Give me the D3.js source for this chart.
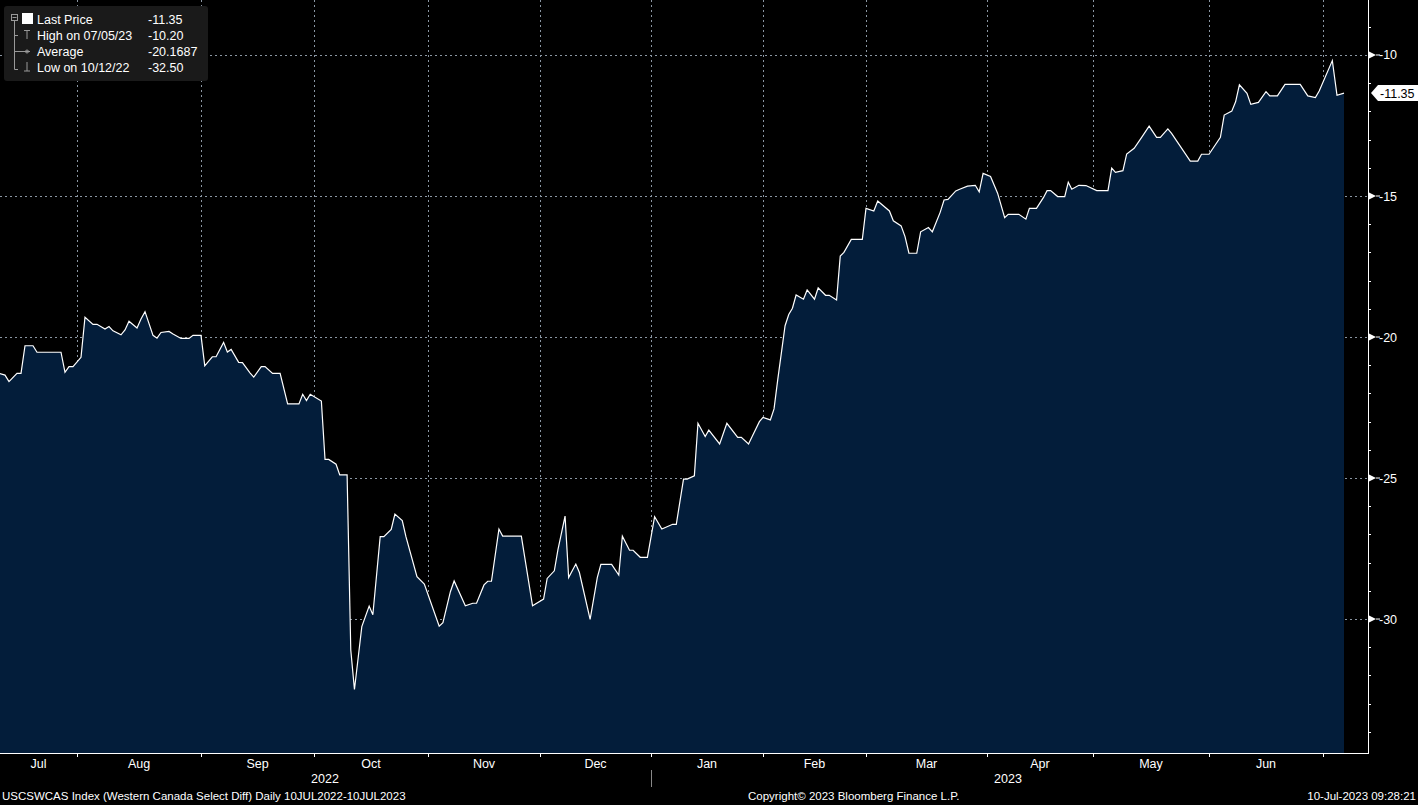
<!DOCTYPE html>
<html>
<head>
<meta charset="utf-8">
<script src="https://cdn.jsdelivr.net/npm/d3@7"></script>
<style>
  body { margin: 0; background: #000; }
  svg { display: block; font-family: "Liberation Sans", Arial, sans-serif; }
</style>
</head>
<body>
<svg id="chart" width="1418" height="805"></svg>
<script>
// dates of the points
const dates = [
  "2022-07-12","2022-07-14","2022-07-15","2022-07-17","2022-07-18","2022-07-19","2022-07-21","2022-07-22","2022-07-28","2022-07-29","2022-07-30","2022-07-31",
  "2022-08-02","2022-08-03","2022-08-05","2022-08-06","2022-08-08","2022-08-09","2022-08-10","2022-08-12","2022-08-13","2022-08-14","2022-08-16","2022-08-17","2022-08-18","2022-08-20","2022-08-21","2022-08-22","2022-08-24","2022-08-25","2022-08-27","2022-08-29","2022-08-30",
  "2022-09-01","2022-09-02","2022-09-04","2022-09-05","2022-09-07","2022-09-08","2022-09-09","2022-09-11","2022-09-12","2022-09-14","2022-09-15","2022-09-17","2022-09-18","2022-09-20","2022-09-22","2022-09-24","2022-09-27","2022-09-28","2022-09-29","2022-09-30",
  "2022-10-03","2022-10-04","2022-10-05","2022-10-07","2022-10-08","2022-10-10","2022-10-11","2022-10-12","2022-10-14","2022-10-16","2022-10-17","2022-10-19","2022-10-20","2022-10-22","2022-10-23","2022-10-25","2022-10-26","2022-10-29","2022-10-31",
  "2022-11-04","2022-11-05","2022-11-07","2022-11-08","2022-11-11","2022-11-13","2022-11-14","2022-11-16","2022-11-17","2022-11-18","2022-11-20","2022-11-21","2022-11-26","2022-11-29",
  "2022-12-02","2022-12-03","2022-12-05","2022-12-06","2022-12-08","2022-12-09","2022-12-11","2022-12-12","2022-12-15","2022-12-17","2022-12-18","2022-12-21","2022-12-23","2022-12-24","2022-12-26","2022-12-27","2022-12-29","2022-12-31",
  "2023-01-02","2023-01-04","2023-01-07","2023-01-08","2023-01-10","2023-01-11","2023-01-13","2023-01-14","2023-01-16","2023-01-17","2023-01-20","2023-01-22","2023-01-25","2023-01-26","2023-01-28","2023-01-29","2023-01-31",
  "2023-02-01","2023-02-03","2023-02-04","2023-02-05","2023-02-07","2023-02-08","2023-02-09","2023-02-10","2023-02-12","2023-02-13","2023-02-15","2023-02-16","2023-02-18","2023-02-19","2023-02-21","2023-02-22","2023-02-23","2023-02-25","2023-02-28",
  "2023-03-01","2023-03-03","2023-03-04","2023-03-07","2023-03-08","2023-03-10","2023-03-11","2023-03-12","2023-03-14","2023-03-15","2023-03-17","2023-03-18","2023-03-20","2023-03-21","2023-03-22","2023-03-24","2023-03-25","2023-03-27","2023-03-29","2023-03-30","2023-03-31",
  "2023-04-02","2023-04-04","2023-04-06","2023-04-07","2023-04-10","2023-04-12","2023-04-13","2023-04-15","2023-04-17","2023-04-18","2023-04-19","2023-04-21","2023-04-23","2023-04-24","2023-04-25","2023-04-27","2023-04-29",
  "2023-05-02","2023-05-05","2023-05-06","2023-05-07","2023-05-09","2023-05-10","2023-05-12","2023-05-14","2023-05-16","2023-05-18","2023-05-19","2023-05-21","2023-05-22","2023-05-27","2023-05-29","2023-05-30",
  "2023-06-01","2023-06-04","2023-06-05","2023-06-07","2023-06-08","2023-06-09","2023-06-11","2023-06-12","2023-06-14","2023-06-16","2023-06-17","2023-06-19","2023-06-21","2023-06-25","2023-06-27","2023-06-29","2023-06-30",
  "2023-07-05","2023-07-07","2023-07-10"
];
// spread, USD
const values = [
  -21.27,-21.35,-21.58,-21.29,-21.29,-20.31,-20.31,-20.54,-20.54,-21.25,-21.05,-21.05,
  -20.72,-19.30,-19.55,-19.55,-19.72,-19.63,-19.78,-19.92,-19.75,-19.44,-19.68,-19.36,-19.10,-19.94,-20.04,-19.84,-19.80,-19.89,-20.05,-20.05,-19.94,
  -19.94,-21.02,-20.70,-20.70,-20.19,-20.53,-20.44,-20.90,-20.91,-21.27,-21.42,-21.05,-21.05,-21.29,-21.29,-22.37,-22.37,-22.03,-22.25,-22.03,
  -22.27,-24.34,-24.34,-24.51,-24.89,-24.89,-31.10,-32.50,-30.27,-29.54,-29.85,-27.08,-27.08,-26.82,-26.28,-26.51,-27.08,-28.50,-28.76,
  -30.25,-30.13,-29.03,-28.65,-29.53,-29.44,-29.44,-28.79,-28.66,-28.66,-26.81,-27.06,-27.06,-29.53,
  -29.29,-28.56,-28.29,-27.55,-26.35,-28.53,-28.05,-28.35,-30.01,-28.53,-28.06,-28.06,-28.44,-27.06,-27.56,-27.56,-27.81,-27.81,
  -26.37,-26.81,-26.64,-26.64,-25.04,-25.04,-24.92,-23.06,-23.53,-23.30,-23.79,-23.06,-23.56,-23.56,-23.79,-23.53,-23.00,
  -22.85,-22.94,-22.55,-21.52,-19.60,-19.20,-18.98,-18.51,-18.66,-18.33,-18.66,-18.26,-18.52,-18.52,-18.69,-17.13,-17.00,-16.54,-16.54,
  -15.44,-15.53,-15.18,-15.53,-15.88,-16.06,-16.44,-17.03,-17.03,-16.27,-16.12,-16.27,-15.58,-15.14,-15.12,-14.82,-14.76,-14.65,-14.62,-14.85,-14.20,
  -14.31,-14.90,-15.77,-15.65,-15.65,-15.82,-15.44,-15.44,-15.05,-14.81,-14.81,-15.02,-15.02,-14.51,-14.76,-14.62,-14.63,
  -14.81,-14.81,-14.01,-14.16,-14.10,-13.51,-13.31,-12.92,-12.52,-12.92,-12.92,-12.62,-12.78,-13.76,-13.76,-13.52,
  -13.52,-12.92,-12.13,-11.99,-11.66,-11.06,-11.36,-11.75,-11.68,-11.30,-11.45,-11.45,-11.04,-11.04,-11.45,-11.51,-11.28,
  -10.20,-11.43,-11.35
];
const yTicks = [-10, -15, -20, -25, -30];
const monthLabels = ["Jul","Aug","Sep","Oct","Nov","Dec","Jan","Feb","Mar","Apr","May","Jun"];
const legendRows = [
  ["Last Price", "-11.35"],
  ["High on 07/05/23", "-10.20"],
  ["Average", "-20.1687"],
  ["Low on 10/12/22", "-32.50"]
];
const lastPrice = -11.35;

// Bloomberg spaces the axis by trading days, so month starts are stops of a piecewise time scale
const monthStarts = ["2022-07-01","2022-08-01","2022-09-01","2022-10-01","2022-11-01","2022-12-01",
  "2023-01-01","2023-02-01","2023-03-01","2023-04-01","2023-05-01","2023-06-01","2023-07-01","2023-07-10","2023-07-16"];
const monthPx = [-47, 77, 201, 314, 428, 540, 651, 763, 866, 987, 1093, 1209, 1323, 1344, 1368];

const parse = d3.timeParse("%Y-%m-%d");
const data = dates.map((d, i) => ({ date: parse(d), value: values[i] }));

const svg = d3.select("#chart");
const plotRight = 1368, plotBottom = 753;

const x = d3.scaleTime().domain(monthStarts.map(parse)).range(monthPx);
const y = d3.scaleLinear().domain([-34.75, -8.05]).range([plotBottom, 0]);

svg.append("rect").attr("width", 1418).attr("height", 805).attr("fill", "#000");

svg.append("clipPath").attr("id", "clip")
  .append("rect").attr("width", plotRight).attr("height", plotBottom);

// grid
const grid = svg.append("g").attr("stroke", "#8a96a3").attr("stroke-dasharray", "2,3").attr("stroke-width", 1);
grid.selectAll(".h").data(yTicks).join("line")
  .attr("x1", 0).attr("x2", plotRight)
  .attr("y1", d => Math.round(y(d)) + 0.5).attr("y2", d => Math.round(y(d)) + 0.5);
grid.selectAll(".v").data(monthStarts.slice(1, 13)).join("line")
  .attr("y1", 0).attr("y2", plotBottom)
  .attr("x1", d => Math.round(x(parse(d))) + 0.5).attr("x2", d => Math.round(x(parse(d))) + 0.5);

// area + line
const g = svg.append("g").attr("clip-path", "url(#clip)");
g.append("path").datum(data)
  .attr("fill", "#031d3a")
  .attr("d", d3.area().x(d => x(d.date)).y0(plotBottom).y1(d => y(d.value)));
g.append("path").datum(data)
  .attr("fill", "none").attr("stroke", "#fff").attr("stroke-width", 1.2)
  .attr("d", d3.line().x(d => x(d.date)).y(d => y(d.value)));

// right axis: white line, small minor ticks, triangle markers at labelled values
const ax = svg.append("g").attr("transform", `translate(${plotRight},0)`);
ax.append("line").attr("x1", 0.5).attr("x2", 0.5).attr("y1", 0).attr("y2", plotBottom).attr("stroke", "#fff");
ax.selectAll(".minor").data(d3.range(-34, -8, 1).filter(v => v % 5 !== 0)).join("line")
  .attr("x1", 0).attr("x2", 3).attr("y1", d => Math.round(y(d)) + 0.5).attr("y2", d => Math.round(y(d)) + 0.5).attr("stroke", "#fff");
ax.selectAll(".tri").data(yTicks).join("path")
  .attr("d", d => `M1,${y(d) - 3.5} L8,${y(d)} L1,${y(d) + 3.5} Z`).attr("fill", "#fff");
ax.selectAll(".dash").data(yTicks).join("line")
  .attr("x1", 8).attr("x2", 12).attr("y1", d => y(d)).attr("y2", d => y(d)).attr("stroke", "#fff");
ax.selectAll("text").data(yTicks).join("text")
  .attr("x", 11).attr("y", d => y(d) + 4.5).attr("fill", "#fff").attr("font-size", 12.5).text(d => d);

// last price tag
const ly = y(lastPrice);
const tag = svg.append("g").attr("transform", `translate(${plotRight + 3},${ly})`);
tag.append("path").attr("d", "M0,0 L7,-8 L50,-8 L50,8 L7,8 Z").attr("fill", "#fff");
tag.append("text").attr("x", 9).attr("y", 4.5).attr("font-size", 12.5).attr("fill", "#000").text(lastPrice.toFixed(2));

// bottom axis
svg.append("line").attr("x1", 0).attr("x2", plotRight + 1).attr("y1", plotBottom + 0.5).attr("y2", plotBottom + 0.5).attr("stroke", "#fff");
svg.append("g").selectAll("line").data(monthStarts.slice(1, 13)).join("line")
  .attr("x1", d => Math.round(x(parse(d))) + 0.5).attr("x2", d => Math.round(x(parse(d))) + 0.5)
  .attr("y1", plotBottom).attr("y2", plotBottom + 4).attr("stroke", "#fff");
svg.append("g").selectAll("text").data(monthLabels).join("text")
  .attr("x", (d, i) => (Math.max(0, monthPx[i]) + monthPx[i + 1]) / 2)
  .attr("y", 768).attr("text-anchor", "middle").attr("fill", "#fff").attr("font-size", 12.5)
  .text(d => d);
svg.append("text").attr("x", 325).attr("y", 783).attr("text-anchor", "middle").attr("fill", "#fff").attr("font-size", 12.5).text("2022");
svg.append("text").attr("x", 1008).attr("y", 783).attr("text-anchor", "middle").attr("fill", "#fff").attr("font-size", 12.5).text("2023");
svg.append("line").attr("x1", 651.5).attr("x2", 651.5).attr("y1", 770).attr("y2", 787).attr("stroke", "#888");

// footer
const foot = svg.append("g").attr("fill", "#fff").attr("font-size", 11.5);
foot.append("text").attr("x", 2).attr("y", 800).text("USCSWCAS Index (Western Canada Select Diff)  Daily 10JUL2022-10JUL2023");
foot.append("text").attr("x", 748).attr("y", 800).text("Copyright\u00a9 2023 Bloomberg Finance L.P.");
foot.append("text").attr("x", 1416).attr("y", 800).attr("text-anchor", "end").text("10-Jul-2023 09:28:21");

// legend
const leg = svg.append("g").attr("transform", "translate(4,6)");
leg.append("rect").attr("width", 204).attr("height", 75).attr("rx", 3).attr("fill", "#1a1a1a");
leg.selectAll(".lab").data(legendRows).join("text")
  .attr("x", 33).attr("y", (d, i) => 18 + i * 16).attr("fill", "#fff").attr("font-size", 12.5).text(d => d[0]);
leg.selectAll(".val").data(legendRows).join("text")
  .attr("x", 144).attr("y", (d, i) => 18 + i * 16).attr("fill", "#fff").attr("font-size", 12.5).text(d => d[1]);
leg.append("rect").attr("x", 18).attr("y", 7).attr("width", 11).attr("height", 11).attr("fill", "#fff");
const ic = leg.append("g").attr("stroke", "#999").attr("fill", "none").attr("stroke-width", 1);
ic.append("rect").attr("x", 7.5).attr("y", 8.5).attr("width", 6).attr("height", 6);
ic.append("line").attr("x1", 8.5).attr("x2", 12.5).attr("y1", 11.5).attr("y2", 11.5);
ic.append("path").attr("d", "M10.5,15 V63.5 H14");
ic.append("path").attr("d", "M10.5,29.5 H14 M20,24.5 H26 M23,24.5 V33");
ic.append("path").attr("d", "M10.5,45.5 H26 M23,45.5 m-1.5,0 a1.5,1.5 0 1,0 3,0 a1.5,1.5 0 1,0 -3,0");
ic.append("path").attr("d", "M23,56 V65 M20,65 H26");
</script>
</body>
</html>
